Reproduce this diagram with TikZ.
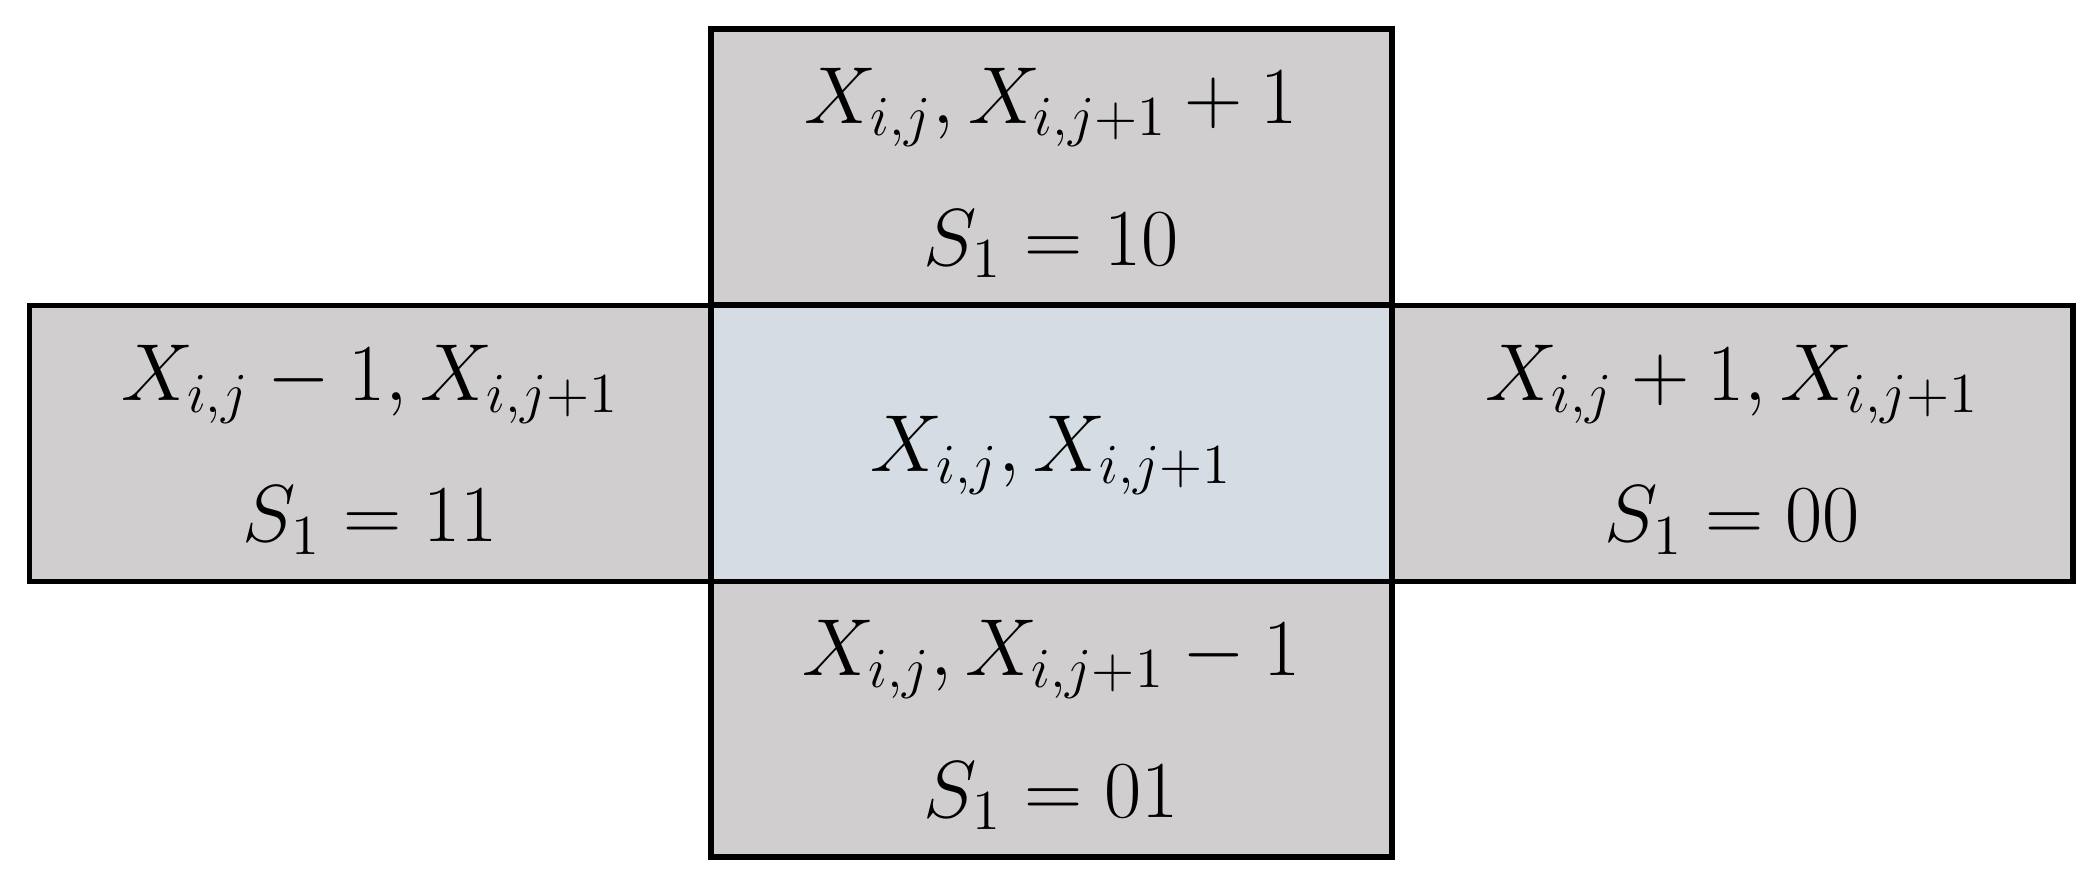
\RequirePackage{fix-cm}
\documentclass[tikz,border=0pt]{standalone}
\definecolor{cellgray}{HTML}{D0CECE}
\definecolor{cellblue}{HTML}{D5DCE4}
\begin{document}
\begin{tikzpicture}[
		line width=1.5pt,
		font=\fontsize{23}{40.3}\selectfont,
		p0/.style={rectangle,draw,fill=cellgray,minimum width=6.81cm,minimum height=2.76cm,inner sep=0pt,outer sep=0pt,align=center,text depth=0pt},
		p1/.style={p0,fill=cellblue}
		]
		\useasboundingbox (0,0) rectangle (20.99,8.88);
		\node[p0](s1) at (10.515,7.21){$X_{i,j},X_{i,j+1}+1$\\$S_1=10$};
		\node[p0](s2) at (3.703,4.445){$X_{i,j}-1,X_{i,j+1}$\\$S_1=11$};
		\node[p0](s3) at (17.325,4.445){$X_{i,j}+1,X_{i,j+1}$\\$S_1=00$};
		\node[p0](s4) at (10.515,1.69){$X_{i,j},X_{i,j+1}-1$\\$S_1=01$};
		\node[p1](s0) at (10.515,4.445){$X_{i,j},X_{i,j+1}$};
		
		\end{tikzpicture}
\end{document}
